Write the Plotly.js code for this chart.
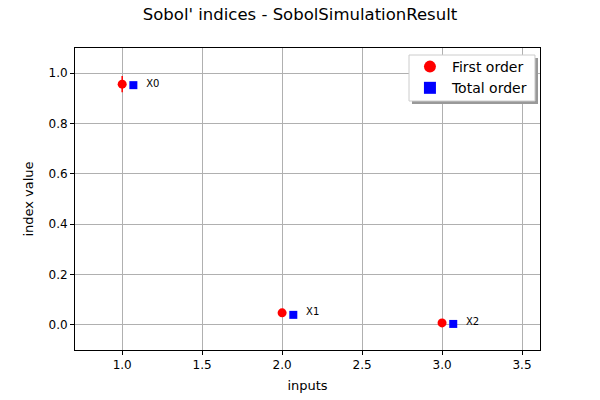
<!DOCTYPE html>
<html><head><meta charset="utf-8">
<script src="https://cdn.plot.ly/plotly-3.0.1.min.js"></script>
<style>body{margin:0}#c{width:600px;height:400px}</style>
</head><body><div id="c"></div>
<script>
const inputs = ["X0", "X1", "X2"];
const xFirst = [1, 2, 3];
const xTotal = [1.07, 2.07, 3.07];
const xLabel = [1.15, 2.15, 3.15];
const firstOrder = [0.956, 0.048, 0.008];
const firstErr = [0.032, 0.004, 0.002];
const totalOrder = [0.952, 0.040, 0.004];
const totalErr = [0.012, 0.003, 0.002];

const traces = [
  {x: xFirst, y: firstOrder, type: "scatter", mode: "markers", name: "First order",
   marker: {color: "red", symbol: "circle", size: 9},
   error_y: {type: "data", array: firstErr, visible: true, color: "red", width: 0, thickness: 1.5}},
  {x: xTotal, y: totalOrder, type: "scatter", mode: "markers", name: "Total order",
   marker: {color: "blue", symbol: "square", size: 8},
   error_y: {type: "data", array: totalErr, visible: true, color: "blue", width: 0, thickness: 1.5}},
  {x: xLabel, y: firstOrder, type: "scatter", mode: "text", text: inputs, showlegend: false,
   textposition: "middle right", textfont: {family: "DejaVu Sans", size: 10, color: "#000"}, hoverinfo: "skip"}
];
const layout = {
  width: 600, height: 400,
  margin: {l: 75, r: 60, t: 48, b: 50},
  paper_bgcolor: "#fff", plot_bgcolor: "#fff",
  font: {family: "DejaVu Sans", color: "#000"},
  title: {text: "Sobol' indices - SobolSimulationResult", x: 0.5, xanchor: "center", y: 0.964, yanchor: "middle",
          font: {family: "DejaVu Sans", size: 16.5, color: "#000"}},
  xaxis: {range: [0.705, 3.6125], tickvals: [1, 1.5, 2, 2.5, 3, 3.5], ticktext: ["1.0","1.5","2.0","2.5","3.0","3.5"],
          showgrid: true, gridcolor: "#b0b0b0", gridwidth: 1, zeroline: false,
          showline: true, mirror: true, linecolor: "#000", linewidth: 1,
          ticks: "outside", ticklen: 4, tickcolor: "#000", tickfont: {size: 12},
          title: {text: "inputs", font: {size: 13}, standoff: 9}},
  yaxis: {range: [-0.0995, 1.0995], tickvals: [0, 0.2, 0.4, 0.6, 0.8, 1.0], ticktext: ["0.0","0.2","0.4","0.6","0.8","1.0"],
          showgrid: true, gridcolor: "#b0b0b0", gridwidth: 1, zeroline: false,
          showline: true, mirror: true, linecolor: "#000", linewidth: 1,
          ticks: "outside", ticklen: 4, tickcolor: "#000", tickfont: {size: 12},
          title: {text: "index value", font: {size: 13}, standoff: 11}},
  legend: {x: 0.716, xanchor: "left", y: 0.990, yanchor: "top", bgcolor: "rgba(0,0,0,0)",
           borderwidth: 0, font: {size: 14}, itemsizing: "constant", tracegroupgap: 0, itemwidth: 34},
  shapes: [
    {type: "rect", xref: "paper", yref: "paper", x0: 0.7247, x1: 0.9957, y0: 0.8146, y1: 0.9669,
     fillcolor: "#999999", line: {width: 0}, layer: "above"},
    {type: "rect", xref: "paper", yref: "paper", x0: 0.7183, x1: 0.9892, y0: 0.8245, y1: 0.9768,
     fillcolor: "#ffffff", line: {width: 1, color: "#cccccc"}, layer: "above"}
  ],
  showlegend: true
};
Plotly.newPlot("c", traces, layout, {displayModeBar: false, staticPlot: true});
</script></body></html>
